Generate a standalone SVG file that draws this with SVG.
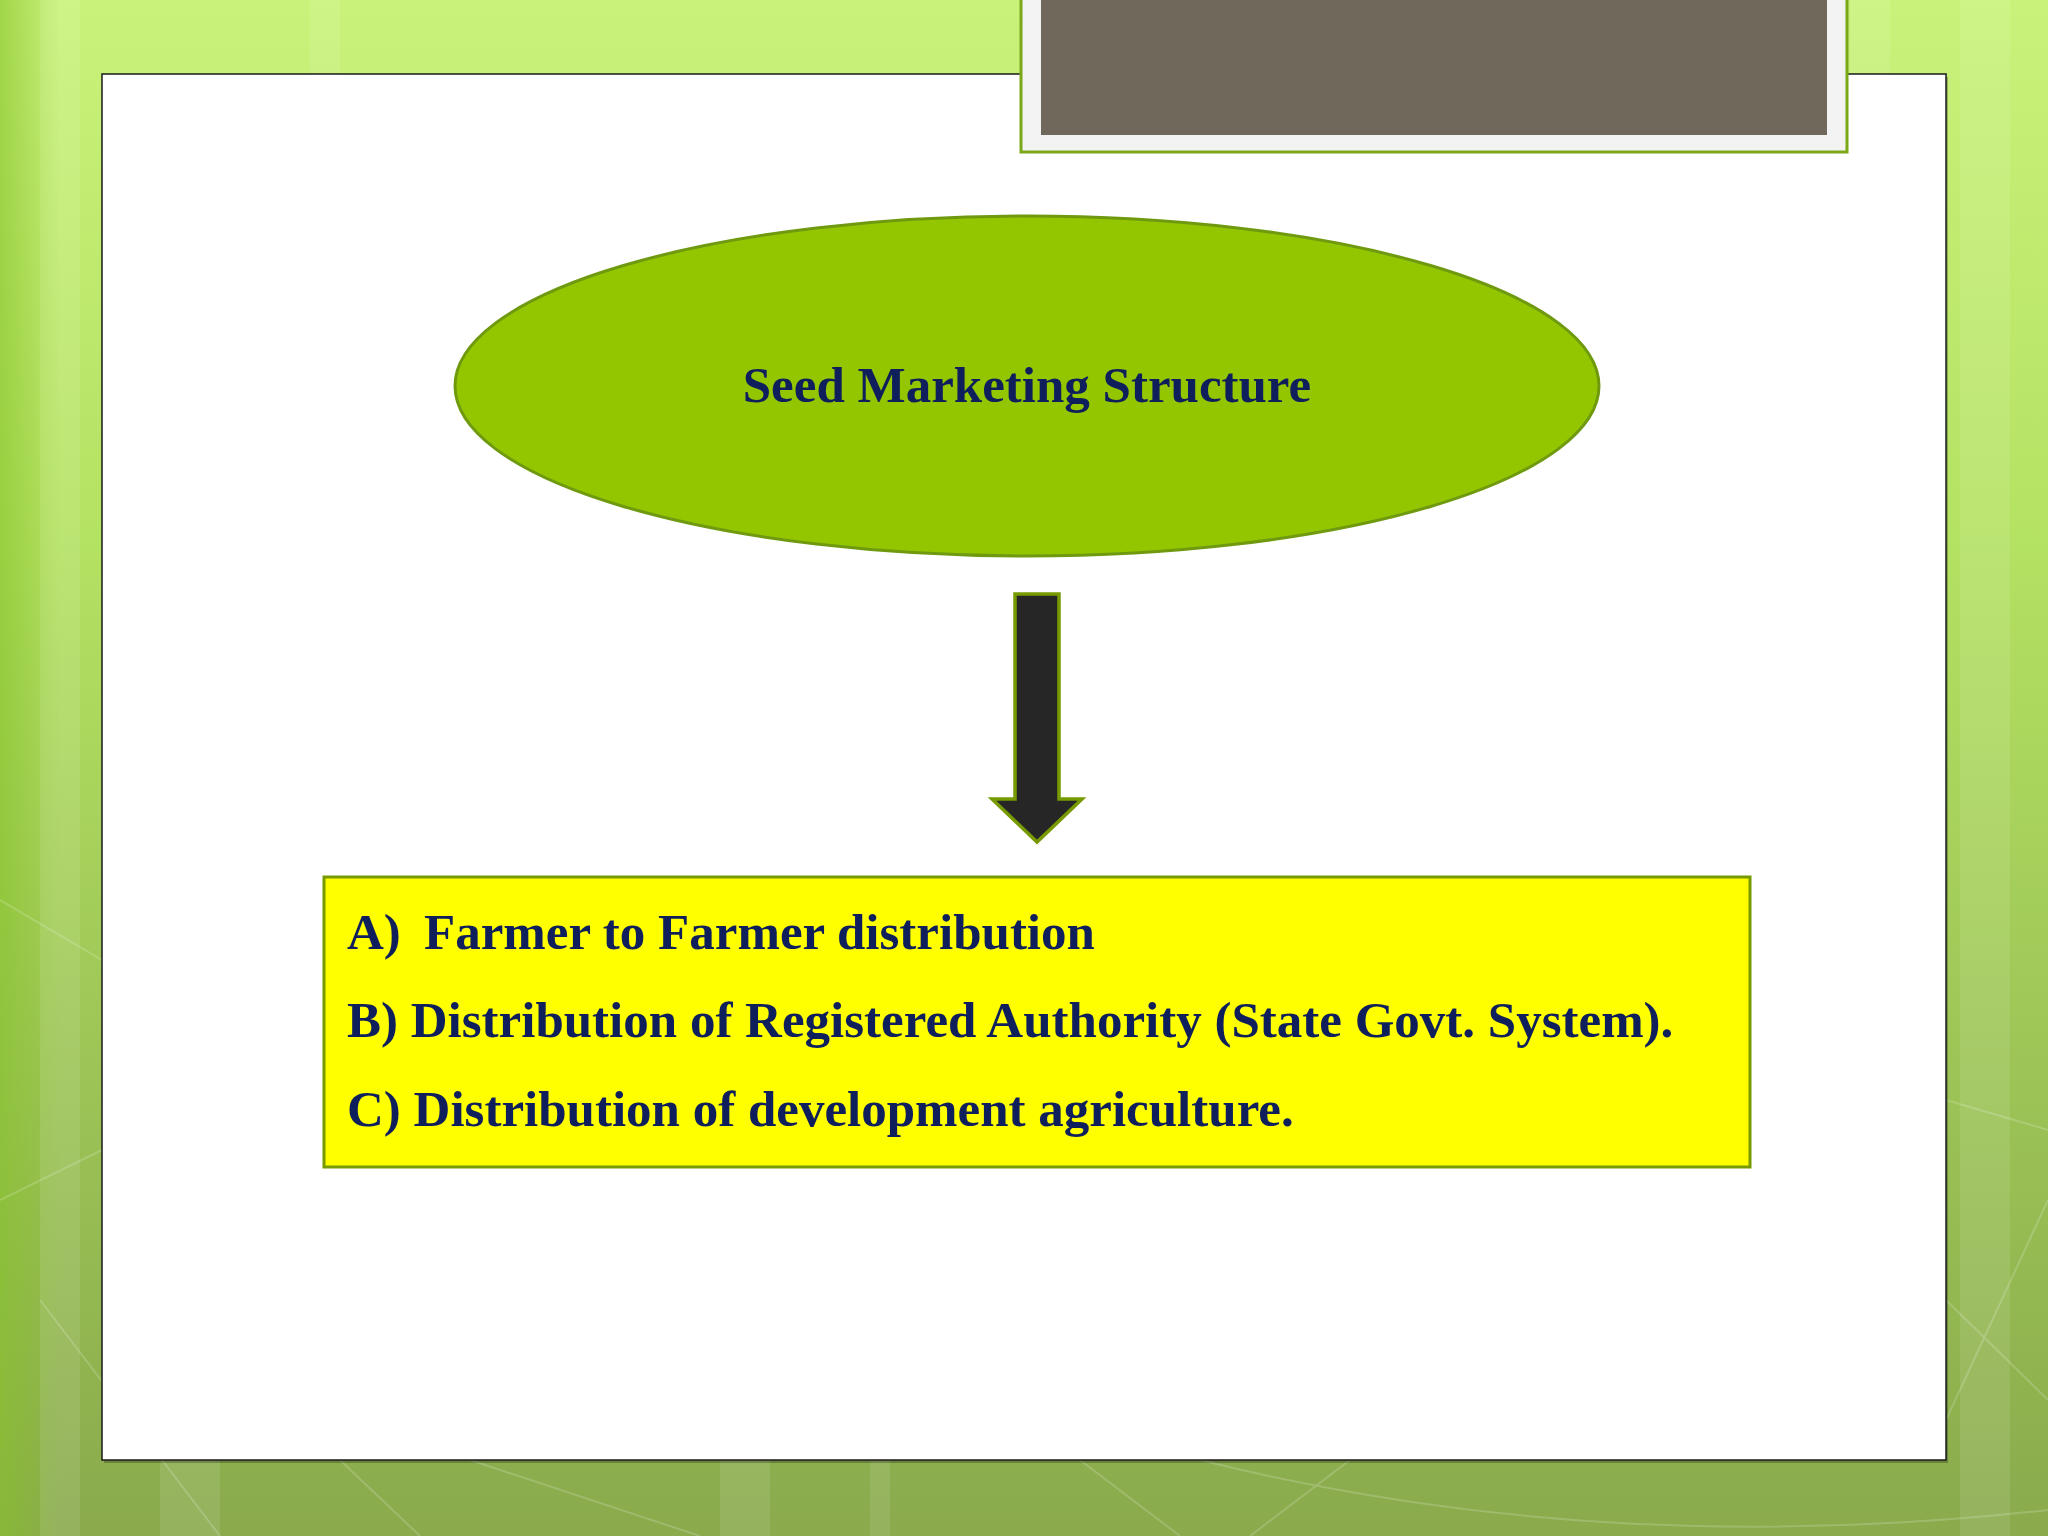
<svg xmlns="http://www.w3.org/2000/svg" width="2048" height="1536" viewBox="0 0 2048 1536">
<defs>
<linearGradient id="bg" x1="0" y1="0" x2="0" y2="1">
<stop offset="0" stop-color="#c9f27a"/>
<stop offset="0.35" stop-color="#b4e262"/>
<stop offset="0.7" stop-color="#9cc456"/>
<stop offset="1" stop-color="#8aaa4c"/>
</linearGradient>
<linearGradient id="side" x1="0" y1="0" x2="1" y2="0">
<stop offset="0" stop-color="#86c22a" stop-opacity="0.6"/>
<stop offset="1" stop-color="#86c22a" stop-opacity="0"/>
</linearGradient>
<style>
.t{font-family:"Liberation Serif","Times New Roman",serif;font-weight:bold;font-size:51px;fill:#0f1f5c}
.ln{stroke:#ffffff;stroke-opacity:0.18;stroke-width:2;fill:none}
.st{fill:#ffffff;fill-opacity:0.1}
</style>
</defs>
<g id="background">
<rect x="0" y="0" width="2048" height="1536" fill="url(#bg)"/>
<rect x="0" y="0" width="60" height="1536" fill="url(#side)"/>
<rect x="40" y="0" width="40" height="1536" class="st"/>
<rect x="160" y="1460" width="60" height="76" class="st"/>
<rect x="310" y="0" width="30" height="74" class="st"/>
<rect x="720" y="1460" width="50" height="76" class="st"/>
<rect x="870" y="1460" width="20" height="76" class="st"/>
<rect x="1960" y="0" width="50" height="1536" class="st"/>
<rect x="1850" y="0" width="40" height="74" class="st"/>
<path class="ln" d="M40 1300 L220 1536 M340 1460 L420 1536 M470 1460 L700 1536 M1080 1460 L1180 1536 M1350 1460 L1250 1536 M1200 1460 Q1600 1560 2048 1510 M1946 1100 L2048 1130 M1946 1300 L2048 1400 M2048 1200 L1946 1420 M0 1200 L102 1150 M0 900 L102 960"/>
</g>
<g id="panel">
<rect x="104" y="77" width="1844" height="1386" fill="#000000" fill-opacity="0.25"/>
<rect x="102" y="74" width="1844" height="1386" fill="#ffffff" stroke="#1a1a1a" stroke-width="1.5"/>
</g>
<g id="title-box">
<rect x="1021" y="-4" width="826" height="156" fill="#f3f3f3" stroke="#7aa818" stroke-width="3"/>
<rect x="1041" y="0" width="786" height="135" fill="#70685b"/>
</g>
<g id="connectors">
<path d="M1015 594 H1059 V799 H1082 L1037 842 L992 799 H1015 Z" fill="#262626" stroke="#779a00" stroke-width="3.5" stroke-linejoin="miter"/>
</g>
<g id="node-seed-marketing">
<ellipse cx="1027" cy="386" rx="572" ry="170" fill="#94c600" stroke="#6f9a10" stroke-width="3"/>
<text class="t" x="1027" y="402" text-anchor="middle">Seed Marketing Structure</text>
</g>
<g id="node-distribution">
<rect x="324" y="877" width="1426" height="290" fill="#ffff00" stroke="#779a00" stroke-width="3"/>
<text class="t" y="949"><tspan x="347">A)</tspan><tspan x="424">Farmer to Farmer distribution</tspan></text>
<text class="t" x="347" y="1037">B) Distribution of Registered Authority (State Govt. System).</text>
<text class="t" x="347" y="1126">C) Distribution of development agriculture.</text>
</g>
</svg>
